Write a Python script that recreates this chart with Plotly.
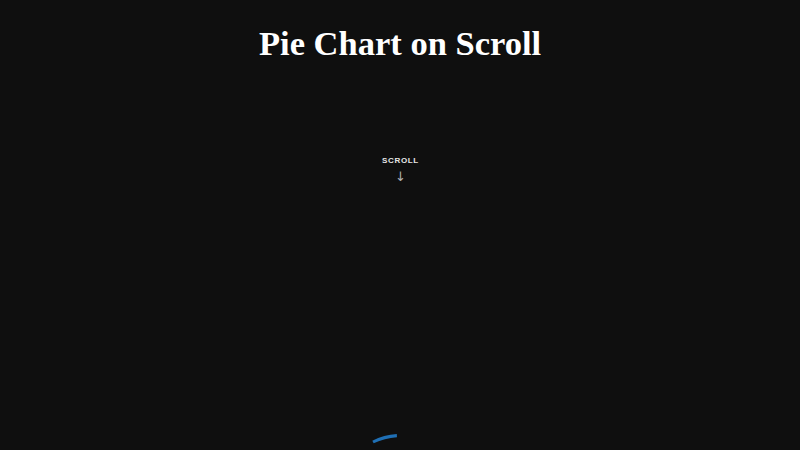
import plotly.graph_objects as go

# dados: trecho da pizza já desenhado no scroll atual
slice_labels = ['Desenhado', 'Restante']
slice_values = [24, 336]
slice_colors = ['#1f6fb4', 'rgba(0,0,0,0)']

title_text = 'Pie Chart on Scroll'
scroll_text = 'SCROLL'

H = 900          # figura mais alta que a janela -> só o topo aparece
W = 800

def py(px_from_top):
    return 1 - px_from_top / H

cx, cy, r = 400, 495, 61

fig = go.Figure(go.Pie(
    labels=slice_labels, values=slice_values, sort=False,
    marker=dict(colors=slice_colors, line=dict(width=0)),
    hole=0.95, textinfo='none', hoverinfo='none',
    direction='clockwise', rotation=-27,
    domain=dict(x=[0.5 - r / W, 0.5 + r / W], y=[py(cy + r), py(cy - r)]),
    showlegend=False,
))

fig.add_annotation(text=f'<b>{title_text}</b>', x=0.5, y=py(43), xref='paper', yref='paper',
                   xanchor='center', yanchor='middle', showarrow=False,
                   font=dict(family='Liberation Serif', size=34.5, color='#ffffff'))
fig.add_annotation(text='<b>' + '\u200a'.join(scroll_text) + '</b>', x=0.5, y=py(160),
                   xref='paper', yref='paper', xanchor='center', yanchor='middle', showarrow=False,
                   font=dict(family='Liberation Sans', size=8, color='#e6e6e6'))
fig.add_annotation(text='↓', x=0.5, y=py(176), xref='paper', yref='paper',
                   xanchor='center', yanchor='middle', showarrow=False,
                   font=dict(family='DejaVu Sans', size=13, color='#b0b0b0'))

fig.update_layout(
    width=W, height=H,
    margin=dict(l=0, r=0, t=0, b=0),
    paper_bgcolor='#0f0f0f', plot_bgcolor='#0f0f0f',
)

# tira a margem branca do body da página
fig.write_html('out.html', config={'displayModeBar': False},
               post_script="document.body.style.margin='0';"
                           "document.body.style.background='#0f0f0f';")
